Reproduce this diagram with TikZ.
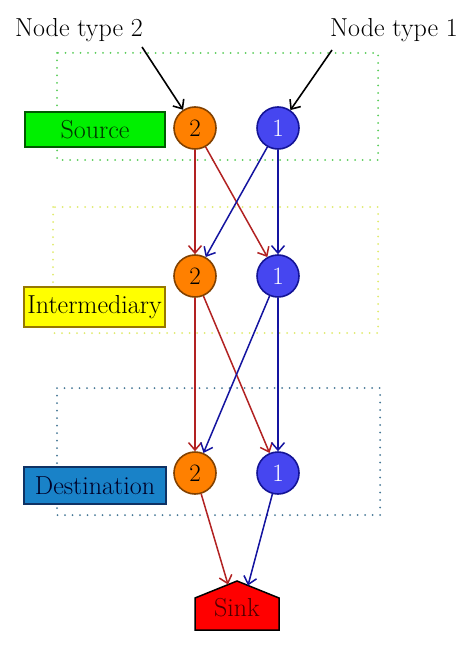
\documentclass[tikz,border=0pt]{standalone}
\usepackage{fontspec}
\usetikzlibrary{arrows.meta}
\definecolor{edgered}{RGB}{178,34,34}
\definecolor{edgeblue}{RGB}{20,20,160}
\definecolor{orangefill}{RGB}{255,128,0}
\definecolor{orangeline}{RGB}{130,65,0}
\definecolor{bluefill}{RGB}{70,70,240}
\definecolor{blueline}{RGB}{20,20,150}
\definecolor{dotgreen}{RGB}{90,205,90}
\definecolor{dotyellow}{RGB}{225,235,110}
\definecolor{dotblue}{RGB}{70,120,150}
\definecolor{srcfill}{RGB}{0,240,0}
\definecolor{srcline}{RGB}{0,90,0}
\definecolor{intfill}{RGB}{255,255,0}
\definecolor{intline}{RGB}{150,120,0}
\definecolor{dstfill}{RGB}{25,130,200}
\definecolor{dstline}{RGB}{15,50,100}
\definecolor{sinkfill}{RGB}{255,0,0}
\newcommand{\bigtext}{\fontsize{26}{30}\selectfont}
\newcommand{\digittext}{\fontsize{25}{28}\selectfont}
\begin{document}
\begin{tikzpicture}[x=1pt,y=-1pt,
  font=\bigtext,
  tipstyle/.style={-{Straight Barb[length=7.5pt,width=13pt]}},
  type2/.style={circle,minimum size=42pt,inner sep=0pt,fill=orangefill,draw=orangeline,line width=1.6pt,text=black,font=\digittext},
  type1/.style={circle,minimum size=42pt,inner sep=0pt,fill=bluefill,draw=blueline,line width=1.6pt,text=white,font=\digittext},
  layerbox/.style={rectangle,inner sep=0pt,line width=1.3pt},
  dotbox/.style={line width=2pt,line cap=round,dash pattern=on 0pt off 7.5pt},
  rededge/.style={tipstyle,draw=edgered,line width=1.5pt},
  blueedge/.style={tipstyle,draw=edgeblue,line width=1.5pt},
  pointer/.style={tipstyle,draw=black,line width=1.6pt}]
\useasboundingbox (0,0) rectangle (474,647);
\fill[white] (0,0) rectangle (474,647);

% dotted layer frames
\draw[dotbox,dotgreen] (57,53) rectangle (378,160);
\draw[dotbox,dotyellow] (53,207) rectangle (378,333);
\draw[dotbox,dotblue] (57,388) rectangle (380,515);

% labels
\node (nt2) at (79,30) {Node type 2};
\node (nt1) at (394,30) {Node type 1};

% layer boxes
\node[layerbox,fill=srcfill,draw=srcline,minimum width=140pt,minimum height=35pt,text=black!80!green] (src) at (95,129.5) {Source};
\node[layerbox,fill=intfill,draw=intline,minimum width=141pt,minimum height=40pt] (int) at (94.5,307) {Intermediary};
\node[layerbox,fill=dstfill,draw=dstline,minimum width=142pt,minimum height=37pt,text=black!85!blue] (dst) at (95,485.5) {Destination};

% network nodes
\node[type2] (s2) at (195,128) {2};
\node[type1] (s1) at (278,128) {1};
\node[type2] (i2) at (195,276) {2};
\node[type1] (i1) at (278,276) {1};
\node[type2] (d2) at (195,473) {2};
\node[type1] (d1) at (278,473) {1};

% sink
\node[inner sep=0pt,minimum width=84pt,minimum height=32pt] (sink) at (237,614) {};
\fill[sinkfill,draw=black,line width=1.5pt,line join=miter] (195,630) -- (195,598) -- (237,581) -- (279,598) -- (279,630) -- cycle;
\node[text=black!70!red] (sinktext) at (237,608) {Sink};
\coordinate (sinkL) at (228,584.5);
\coordinate (sinkR) at (248,585.5);

% pointers
\coordinate (p2) at (142,47);
\coordinate (p1) at (332,50);
\draw[pointer] (p2) -- (s2);
\draw[pointer] (p1) -- (s1);

% edges
\draw[rededge] (s2) -- (i2);
\draw[rededge] (s2) -- (i1);
\draw[blueedge] (s1) -- (i2);
\draw[blueedge] (s1) -- (i1);
\draw[rededge] (i2) -- (d2);
\draw[rededge] (i2) -- (d1);
\draw[blueedge] (i1) -- (d2);
\draw[blueedge] (i1) -- (d1);
\draw[rededge] (d2) -- (sinkL);
\draw[blueedge] (d1) -- (sinkR);
\end{tikzpicture}
\end{document}
